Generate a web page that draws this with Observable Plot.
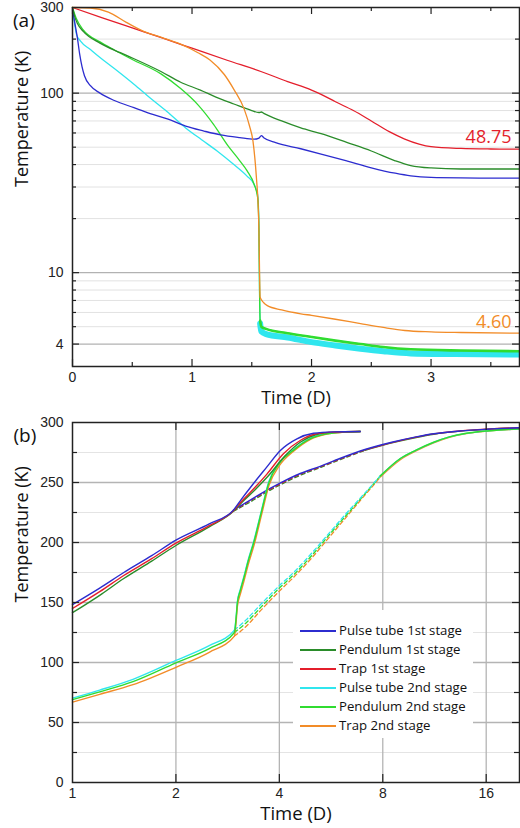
<!DOCTYPE html>
<html><head><meta charset="utf-8">
<script src="https://cdn.jsdelivr.net/npm/d3@7"></script>
<script src="https://cdn.jsdelivr.net/npm/@observablehq/plot@0.6"></script>
<style>
body{margin:0;background:#fff;}
#wrap{position:relative;width:520px;height:828px;overflow:hidden;background:#fff;}
#wrap svg{display:block;}
.legend{position:absolute;left:293px;top:610px;width:180px;height:128px;background:#fff;font-family:"Open Sans";font-size:13.2px;color:#111;}
.row{position:absolute;left:0;width:180px;height:19px;line-height:19px;white-space:nowrap;}
.sw{position:absolute;left:7px;top:9px;width:36px;height:2px;}
.lab{position:absolute;left:46px;top:0;}
</style></head><body><div id="wrap"></div>
<script>
// ---------- series ----------
const seriesNames = ["Pulse tube 1st stage","Pendulum 1st stage","Trap 1st stage","Pulse tube 2nd stage","Pendulum 2nd stage","Trap 2nd stage"];
const colors = ["#2c2ccf","#2a8c2a","#e41e2b","#30e6ee","#30dc30","#f28c28"];

// ---------- panel (a): [time (D), temperature (K)] ----------
const aPulse1 = [[0,295],[0.02,245],[0.04,205],[0.06,165],[0.08,140],[0.1,125],[0.15,110],[0.23,100],[0.35,91],[0.514,83],[0.65,77],[0.8,71.6],[0.947,65.5],[1.1,61.5],[1.24,58.5],[1.4,56.5],[1.52,55.4],[1.56,56.2],[1.58,58],[1.6,56.5],[1.7,53],[1.91,49],[2.08,45.8],[2.3,41.8],[2.5,38.4],[2.7,35.8],[2.83,34.6],[3.0,33.9],[3.25,33.7],[3.74,33.6]];
const aPend1 = [[0,300],[0.02,265],[0.04,245],[0.09,221],[0.23,190],[0.4,168],[0.51,156],[0.74,132],[0.905,115],[1.07,104],[1.2,95],[1.35,87],[1.5,80],[1.56,78],[1.58,78.5],[1.6,77.2],[1.75,70],[1.91,64],[2.08,59.5],[2.3,53],[2.5,47.6],[2.7,42],[2.83,39.5],[3.0,38.3],[3.25,37.8],[3.74,37.8]];
const aTrap1 = [[0,300],[0.25,263],[0.5,231],[0.75,203],[1.0,178],[1.3,152],[1.576,132],[1.8,116],[2.0,104],[2.08,98.5],[2.2,89.5],[2.35,80],[2.5,70],[2.65,61],[2.78,55.5],[2.9,52],[3.0,50.3],[3.25,49.2],[3.5,48.85],[3.74,48.75]];
const aPulse2 = [[0,290],[0.015,250],[0.034,212],[0.067,195],[0.15,175],[0.23,158],[0.35,137],[0.514,112],[0.65,94],[0.79,79],[0.947,64],[1.08,55],[1.21,47.6],[1.35,40],[1.46,34.5],[1.52,31],[1.55,27],[1.56,18],[1.565,8],[1.57,5.2],[1.58,4.7],[1.62,4.55],[1.8,4.35],[2.0,4.1],[2.2,3.93],[2.41,3.77],[2.6,3.65],[2.83,3.55],[3.2,3.52],[3.74,3.5]];
const aPend2 = [[0,300],[0.03,262],[0.09,225],[0.23,193],[0.35,174],[0.5,154],[0.74,128],[0.905,106],[1.05,86],[1.18,67],[1.3,51],[1.4,42],[1.46,37],[1.52,31],[1.55,26],[1.56,17],[1.565,8],[1.57,5.4],[1.58,5.0],[1.62,4.86],[1.8,4.6],[2.0,4.38],[2.2,4.18],[2.41,4.0],[2.6,3.85],[2.83,3.74],[3.25,3.68],[3.74,3.65]];
const aTrap2 = [[0,300],[0.15,298],[0.3,283],[0.45,248],[0.6,220],[0.75,204],[0.9,188],[1.05,168],[1.15,153],[1.27,127],[1.35,105],[1.435,82],[1.48,66],[1.51,54],[1.54,33],[1.553,24],[1.56,17],[1.565,10],[1.57,7.3],[1.6,6.8],[1.63,6.55],[1.75,6.2],[1.91,5.9],[2.0,5.78],[2.2,5.5],[2.41,5.2],[2.6,4.95],[2.78,4.76],[3.0,4.68],[3.25,4.64],[3.74,4.6]];
const finalA = [{v: 48.75, label: "48.75"}, {v: 4.60, label: "4.60"}];

const aXMajor = [0,1,2,3];
const aXMinor = [0.5,1.5,2.5,3.5];
const aYLabels = [4,10,100,300];
const aYMajor = [4,10,100];
const aYMinor = [5,6,7,8,9,20,30,40,50,60,70,80,90,200];

// ---------- panel (b): [time (D), temperature (K)] ----------
const bPulse1 = [[1,148.3],[1.2,162],[1.41,175],[1.7,189],[2,202],[2.5,215.5],[2.94,227],[3.1,236],[3.36,249],[3.68,263],[4.02,276.5],[4.5,286.4],[5.03,291],[5.74,292.2],[6.88,292.5]];
const bPend1 = [[1,141.5],[1.2,156],[1.41,170],[1.7,184.5],[2,197.5],[2.5,213],[2.94,226],[3.1,233],[3.4,244],[3.7,255],[4.15,272],[4.6,283.5],[5.1,289.8],[5.8,292],[6.88,292.5]];
const bTrap1 = [[1,145],[1.2,159],[1.41,172.5],[1.7,186.5],[2,199.5],[2.5,214],[2.94,226.5],[3.1,234],[3.4,246],[3.68,257],[4.11,274],[4.6,285],[5.09,290.4],[5.74,292],[6.88,292.5]];
const bPulse2 = [[1,70.3],[1.2,77],[1.5,86],[2,101.7],[2.5,114],[2.96,127],[3.0,141],[3.02,151],[3.08,161],[3.15,171],[3.25,186],[3.37,201],[3.55,227],[3.73,251],[4.0,266.5],[4.4,277.5],[4.93,287],[5.5,290.8],[6.2,292],[6.88,292.5]];
const bPend2 = [[1,69],[1.2,75.5],[1.5,84],[2,99.7],[2.5,111.5],[2.96,125],[3.0,140],[3.02,150],[3.08,160],[3.15,170],[3.25,185],[3.37,200],[3.55,226],[3.73,250],[4.0,266],[4.4,277],[4.93,286.5],[5.5,290.5],[6.2,292],[6.88,292.5]];
const bTrap2 = [[1,67],[1.2,73.5],[1.5,81.5],[2,96],[2.5,108.5],[2.96,122],[3.0,137],[3.02,147],[3.08,157],[3.15,167],[3.25,182],[3.37,197],[3.55,223],[3.73,247.5],[4.0,264],[4.4,276],[4.93,286],[5.5,290.3],[6.2,292],[6.88,292.5]];

const bPulse1Slow = [[2.94,227],[3.3,235.5],[3.7,244],[4.02,249.5],[4.6,257.5],[5.26,263.5],[6.0,270],[7.1,277.5],[8.5,283.5],[10,288],[11.25,290.6],[13.5,293],[16.1,294.4],[20,295.6]];
const bPend1Slow = [[2.94,226],[3.3,234],[3.7,242.5],[4.02,248],[4.6,256],[5.26,262.5],[6.0,269],[7.1,276.8],[8.5,283],[10,287.5],[11.25,290.2],[13.5,292.8],[16.1,294.3],[20,295.5]];
const bTrap1Slow = [[2.94,226.5],[3.3,235],[3.7,243.3],[4.02,248.8],[4.6,256.8],[5.26,263],[6.0,269.5],[7.1,277.2],[8.5,283.3],[10,287.8],[11.25,290.5],[13.5,293],[16.1,294.5],[20,295.8]];
const bPulse2Slow = [[2.96,127],[3.2,135.5],[3.52,148],[4.0,164],[4.4,175],[5.0,192],[5.63,209],[6.3,225],[6.88,237],[7.4,247],[7.87,255.5],[9.0,270],[10,277],[11.25,283.5],[12.5,288],[14,291],[16.1,293],[18,294],[20,294.7]];
const bPend2Slow = [[2.96,125],[3.2,133],[3.52,145.5],[4.0,162],[4.4,173],[5.0,190],[5.63,207.5],[6.3,223.5],[6.88,236],[7.4,246.5],[7.87,255.5],[9.0,270],[10,277],[11.25,283.5],[12.5,288],[14,291],[16.1,293],[18,294],[20,294.7]];
const bTrap2Slow = [[2.96,122],[3.2,130],[3.52,143],[4.0,159.5],[4.4,171],[5.0,188],[5.63,205.5],[6.3,222],[6.88,235],[7.4,245.5],[7.87,254.5],[9.0,269],[10,276.3],[11.25,283],[12.5,287.6],[14,290.7],[16.1,292.8],[18,293.8],[20,294.6]];
const break1 = 7.1, break2 = 7.87;

const bXLabels = [1,2,4,8,16];
const bXGrid = [2,4,8,16];
const bYLabels = [0,50,100,150,200,250,300];
const bYMajor = [50,100,150,200,250];
const bYMinor = [25,75,125,175,225,275];

// ---------- helpers ----------
const X = d => d[0], Y = d => d[1];
const ink = "#222";
const tickFont = "Liberation Sans, Arial, sans-serif";
const titleFont = "Open Sans, sans-serif";
const ln = (data, color, o = {}) => Plot.line(data, {x: X, y: Y, stroke: color, strokeWidth: 1.3, curve: "monotone-x", ...o});
const tL = (v, len, W) => Plot.tickY(v, {y: d => d, insetRight: W - len, stroke: ink, strokeWidth: 1.2});
const tR = (v, len, W) => Plot.tickY(v, {y: d => d, insetLeft: W - len, stroke: ink, strokeWidth: 1.2});
const tB = (v, len, H) => Plot.tickX(v, {x: d => d, insetTop: H - len, stroke: ink, strokeWidth: 1.2});
const tT = (v, len, H) => Plot.tickX(v, {x: d => d, insetBottom: H - len, stroke: ink, strokeWidth: 1.2});

const wrap = document.getElementById("wrap");

// ---------- panel (a) ----------
{
  const W = 520, H = 415, mL = 72, mR = 1, mT = 7, mB = 49;
  const pw = W - mL - mR, ph = H - mT - mB;
  const svg = Plot.plot({
    width: W, height: H, marginLeft: mL, marginRight: mR, marginTop: mT, marginBottom: mB,
    style: {fontFamily: tickFont, fontSize: "14px", color: ink, background: "#fff", overflow: "visible"},
    x: {domain: [0, 3.74], label: null},
    y: {type: "log", domain: [3, 300], label: null},
    marks: [
      Plot.ruleY(aYMinor, {stroke: "#e2e2e2", strokeWidth: 1}),
      Plot.ruleY(aYMajor, {stroke: "#b2b2b2", strokeWidth: 1.3}),
      ln(aPulse2, colors[3]),
      ln(aPulse2.filter(d => d[0] >= 1.57), colors[3], {strokeWidth: 6}),
      ln(aPend2, colors[4]),
      ln(aPend2.filter(d => d[0] >= 1.57), colors[4], {strokeWidth: 2.6}),
      ln(aPulse1, colors[0]),
      ln(aPend1, colors[1]),
      ln(aTrap1, colors[2]),
      ln(aTrap2, colors[5]),
      tL(aYMinor, 4, pw), tL(aYMajor, 7, pw), tR(aYMinor, 4, pw), tR(aYMajor, 7, pw),
      tB(aXMajor, 7, ph), tB(aXMinor, 4, ph), tT(aXMajor, 7, ph), tT(aXMinor, 4, ph),
      Plot.axisY(aYLabels, {tickSize: 0, tickPadding: 9, tickFormat: d => String(d), label: null, fontSize: 14}),
      Plot.axisX(aXMajor, {tickSize: 0, tickPadding: 6, tickFormat: d => String(d), label: null, fontSize: 14}),
      Plot.frame({stroke: ink, strokeWidth: 1.5}),
      Plot.text([finalA[0]], {y: "v", text: "label", frameAnchor: "right", textAnchor: "end", dx: -8, dy: -11.5, fill: colors[2], fontSize: 18, fontFamily: titleFont}),
      Plot.text([finalA[1]], {y: "v", text: "label", frameAnchor: "right", textAnchor: "end", dx: -8, dy: -10.5, fill: colors[5], fontSize: 18, fontFamily: titleFont}),
      Plot.text(["Temperature (K)"], {text: d => d, frameAnchor: "left", dx: -50, rotate: -90, fontSize: 18, fontFamily: titleFont, fill: "#111"}),
      Plot.text(["Time (D)"], {text: d => d, frameAnchor: "bottom", dy: 37, fontSize: 18, fontFamily: titleFont, fill: "#111"}),
      Plot.text(["(a)"], {text: d => d, frameAnchor: "top-left", dx: -59.5, dy: 6, fontSize: 19, fontFamily: titleFont, fill: "#111"})
    ]
  });
  wrap.appendChild(svg);
}

// ---------- panel (b) ----------
{
  const W = 520, H = 413, mL = 72, mR = 1, mT = 7, mB = 46;
  const pw = W - mL - mR, ph = H - mT - mB;
  const dash = {strokeDasharray: "4,3"};
  const svg = Plot.plot({
    width: W, height: H, marginLeft: mL, marginRight: mR, marginTop: mT, marginBottom: mB,
    style: {fontFamily: tickFont, fontSize: "14px", color: ink, background: "#fff", overflow: "visible"},
    x: {type: "log", base: 2, domain: [1, 20], label: null},
    y: {domain: [0, 300], label: null},
    marks: [
      Plot.ruleY(bYMinor, {stroke: "#e4e4e4", strokeWidth: 1}),
      Plot.ruleY(bYMajor, {stroke: "#b4b4b4", strokeWidth: 1.3}),
      Plot.ruleX(bXGrid, {stroke: "#b4b4b4", strokeWidth: 1.3}),
      // 2nd stage, slow branch
      ln(bTrap2Slow.filter(d => d[0] <= break2), colors[5], dash),
      ln(bPend2Slow.filter(d => d[0] <= break2), colors[4], dash),
      ln(bPulse2Slow.filter(d => d[0] <= break2), colors[3], dash),
      ln(bTrap2Slow.filter(d => d[0] >= break2), colors[5]),
      ln(bPulse2Slow.filter(d => d[0] >= break2), colors[3]),
      ln(bPend2Slow.filter(d => d[0] >= break2), colors[4], {strokeWidth: 1.5}),
      // 1st stage, slow branch
      ln(bPend1Slow.filter(d => d[0] <= break1), colors[1], dash),
      ln(bTrap1Slow.filter(d => d[0] <= break1), colors[2], dash),
      ln(bPend1Slow.filter(d => d[0] >= break1), colors[1]),
      ln(bTrap1Slow.filter(d => d[0] >= break1), colors[2]),
      ln(bPulse1Slow, colors[0], {strokeWidth: 1.4}),
      // 2nd stage, fast branch
      ln(bPulse2, colors[3], {strokeWidth: 1.4}),
      ln(bTrap2, colors[5], {strokeWidth: 1.4}),
      ln(bPend2, colors[4], {strokeWidth: 1.4}),
      // 1st stage, fast branch
      ln(bPend1, colors[1], {strokeWidth: 1.4}),
      ln(bTrap1, colors[2], {strokeWidth: 1.4}),
      ln(bPulse1, colors[0], {strokeWidth: 1.4}),
      tL(bYMinor, 5, pw), tL(bYMajor, 7, pw), tR(bYMinor, 5, pw), tR(bYMajor, 7, pw),
      tB(bXGrid, 8, ph), tT(bXGrid, 8, ph),
      Plot.axisY(bYLabels, {tickSize: 0, tickPadding: 9, tickFormat: d => String(d), label: null, fontSize: 14}),
      Plot.axisX(bXLabels, {tickSize: 0, tickPadding: 6, tickFormat: d => String(d), label: null, fontSize: 14}),
      Plot.frame({stroke: ink, strokeWidth: 1.5}),
      Plot.text(["Temperature (K)"], {text: d => d, frameAnchor: "left", dx: -50, rotate: -90, fontSize: 18, fontFamily: titleFont, fill: "#111"}),
      Plot.text(["Time (D)"], {text: d => d, frameAnchor: "bottom", dy: 37.5, fontSize: 18.5, fontFamily: titleFont, fill: "#111"}),
      Plot.text(["(b)"], {text: d => d, frameAnchor: "top-left", dx: -59, dy: 6, fontSize: 19, fontFamily: titleFont, fill: "#111"})
    ]
  });
  wrap.appendChild(svg);
}

// ---------- legend ----------
{
  const lg = document.createElement("div");
  lg.className = "legend";
  seriesNames.forEach((name, i) => {
    const row = document.createElement("div");
    row.className = "row";
    row.style.top = (11 + 19 * i) + "px";
    const sw = document.createElement("div");
    sw.className = "sw";
    sw.style.backgroundColor = colors[i];
    const lab = document.createElement("span");
    lab.className = "lab";
    lab.textContent = name;
    row.appendChild(sw); row.appendChild(lab);
    lg.appendChild(row);
  });
  wrap.appendChild(lg);
}
</script></body></html>
